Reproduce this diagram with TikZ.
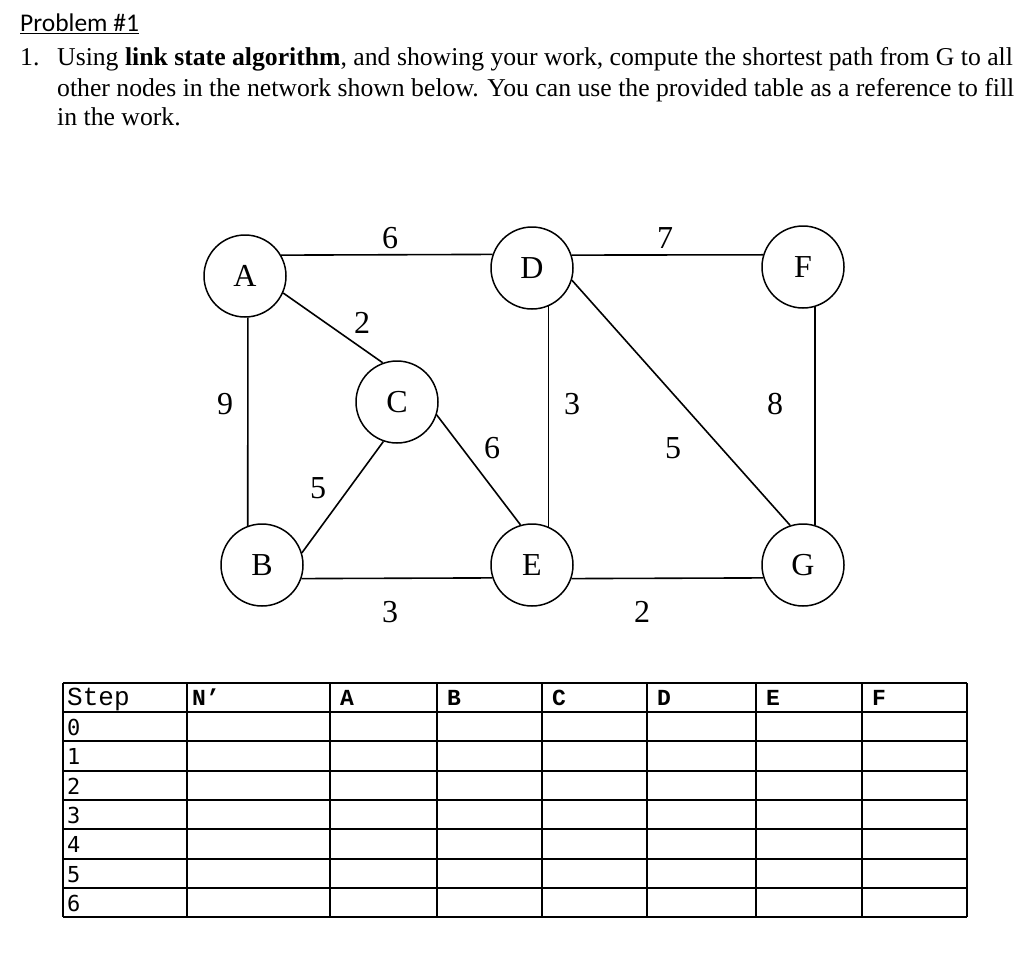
\documentclass[tikz,border=0pt]{standalone}
\usepackage{fontspec}
\setmainfont{Liberation Serif}
\setmonofont{Liberation Mono}
\newfontfamily\calibrifont{Carlito}
\newfontfamily\sansmono{DejaVu Sans Mono}
\begin{document}
\begin{tikzpicture}[x=1pt,y=-1pt,
  vtx/.style={circle, draw, line width=1.5pt, minimum size=82pt, inner sep=0pt,
    font=\fontsize{32}{33}\selectfont},
  edge/.style={line width=1.6pt},
  lbl/.style={inner sep=0pt, font=\fontsize{32}{32}\selectfont},
  txt/.style={anchor=base west, inner sep=0pt, font=\fontsize{25.7}{28}\selectfont},
  cell/.style={anchor=base west, inner sep=0pt, font=\ttfamily\bfseries\fontsize{23}{26}\selectfont},
  stephead/.style={anchor=base west, inner sep=0pt, font=\ttfamily\fontsize{26}{28}\selectfont},
  stepcell/.style={anchor=base west, inner sep=0pt, font=\sansmono\fontsize{22}{24}\selectfont},
  grid/.style={line width=1.5pt}]
\fill[white] (0,0) rectangle (1024,963);
\useasboundingbox (0,0) rectangle (1024,963);

% header text
\node[anchor=base west, inner sep=0pt, font=\calibrifont\fontsize{25.5}{28}\selectfont] (ttl) at (20,32) {\underline{Problem \#1}};
\node[txt] (n1) at (20,66) {1.};
\node[txt] (l1) at (57,66) {Using \textbf{link state algorithm}, and showing your work, compute the shortest path from G to all};
\node[txt] (l2) at (57,97) {other nodes in the network shown below. You can use the provided table as a reference to fill};
\node[txt] (l3) at (57,125) {in the work.};

% graph nodes
\node[vtx] (A) at (245,276) {A};
\node[vtx] (D) at (532,268) {D};
\node[vtx] (F) at (803,267) {F};
\node[vtx] (C) at (397,402) {C};
\node[vtx] (B) at (262,565) {B};
\node[vtx] (E) at (532,565) {E};
\node[vtx] (G) at (803,565) {G};

% edges
\draw[edge] (A.30.8) -- (D.161.5) node[lbl] at (390,238) {6};
\draw[edge] (D.18.5) -- (F.163) node[lbl] at (665,238) {7};
\draw[edge] (A.274.2) -- (B.110) node[lbl] at (225,404) {9};
\draw[edge] (D.293) -- (E.67) node[lbl] at (572,404) {3};
\draw[edge] (F.287) -- (G.73) node[lbl] at (775,404) {8};
\draw[edge] (B.341.5) -- (E.198.5) node[lbl] at (390,612) {3};
\draw[edge] (E.341.5) -- (G.198.5) node[lbl] at (642,612) {2};
\draw[edge] (A.336.6) -- (C.110.2) node[lbl] at (362,323) {2};
\draw[edge] (C.251) -- (B.17.6) node[lbl] at (318,488) {5};
\draw[edge] (C.342.4) -- (E.106.7) node[lbl] at (492,448) {6};
\draw[edge] (D.343.7) -- (G.108) node[lbl] at (673,448) {5};

% table
\foreach \yy in {683,712,741,771,800,829,859,888,917}
  \draw[grid] (63,\yy) -- (967,\yy);
\foreach \xx in {63,187,330,437,542,647,756,862,967}
  \draw[grid] (\xx,683) -- (\xx,917);
\node[stephead] (hs) at (67,705) {Step};
\node[cell] (hn) at (192,705) {N’};
\node[cell] (ha) at (340,705) {A};
\node[cell] (hb) at (447,705) {B};
\node[cell] (hc) at (552,705) {C};
\node[cell] (hd) at (657,705) {D};
\node[cell] (he) at (766,705) {E};
\node[cell] (hf) at (872,705) {F};
\foreach \r [count=\i from 0] in {735,764,794,823,852,882,911}
  \node[stepcell] (s\i) at (67,\r) {\i};
\end{tikzpicture}
\end{document}
